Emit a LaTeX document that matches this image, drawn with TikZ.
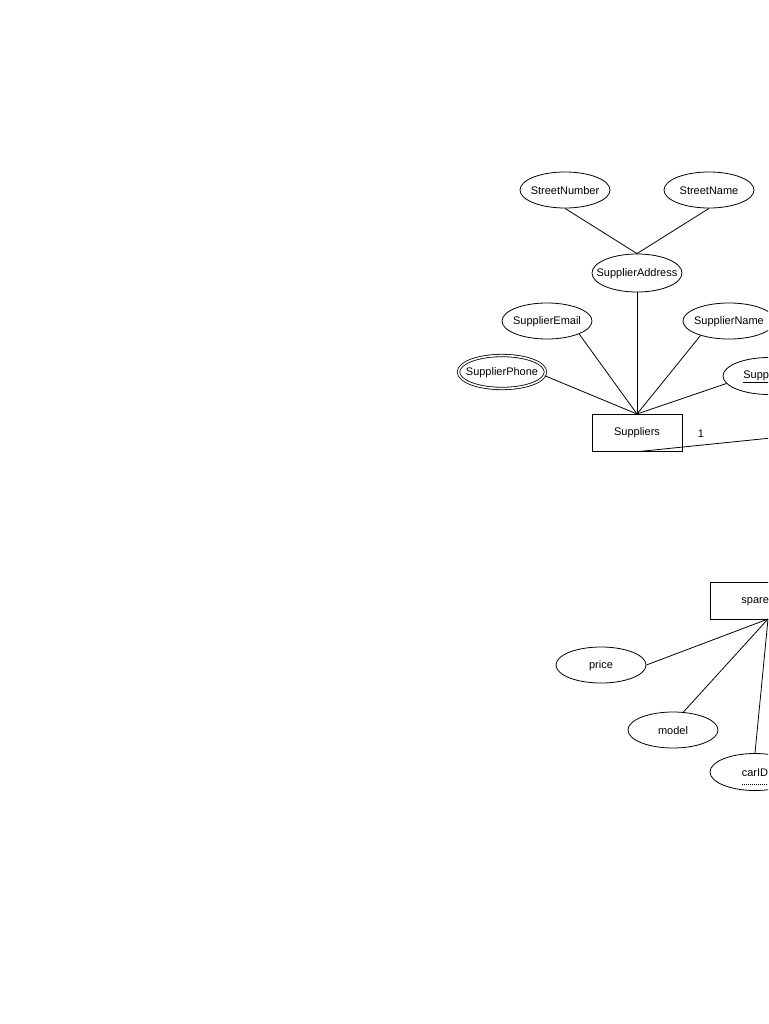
\documentclass[tikz,border=0pt]{standalone}
\usepackage{fontspec}
\setmainfont{Liberation Sans}
\usetikzlibrary{shapes.geometric}
\begin{document}
\begin{tikzpicture}[x=1pt,y=-1pt,
  attr/.style 2 args={draw,ellipse,line width=0.8pt,minimum width=90pt,minimum height=36pt,inner sep=0pt,
    label={[font=\fontsize{11}{13}\selectfont,inner sep=0pt,yshift=-0.5pt]center:{#1}}},
  ent/.style={draw,rectangle,line width=0.8pt,minimum width=90pt,minimum height=37pt,inner sep=0pt,font=\fontsize{11}{13}\selectfont},
  conn/.style={line width=0.8pt},
  lbl/.style={font=\fontsize{11}{13}\selectfont,inner sep=0pt}]
\useasboundingbox (0,0) rectangle (768,1024);
\fill[white] (0,0) rectangle (768,1024);
\clip (0,0) rectangle (768,1024);

% Suppliers part
\node[attr={StreetNumber}{}] (sn) at (565,190) {};
\node[attr={StreetName}{}] (sna) at (709,190) {};
\node[attr={SupplierAddress}{},minimum height=38pt] (sa) at (637,273) {};
\node[attr={SupplierEmail}{}] (se) at (547,321) {};
\node[attr={SupplierName}{},minimum width=92pt] (sname) at (729,321) {};
\node[attr={SupplierPhone}{},double,double distance=1.6pt,minimum width=87pt,minimum height=33pt] (sp) at (502,372) {};
\node[attr={\underline{SupplierID}}{},minimum width=92pt,minimum height=37pt] (sid) at (769,376) {};
\node[ent] (sup) at (637,432.5) {Suppliers};
\coordinate (conv) at (637,414);
\coordinate (rel) at (830,432);

\draw[conn] (sn.south) -- (sa.north);
\draw[conn] (sna.south) -- (sa.north);
\draw[conn] (sa.south) -- (conv);
\draw[conn] (se.-22) -- (conv);
\draw[conn] (sname.207) -- (conv);
\draw[conn] (sp.-5) -- (conv);
\draw[conn] (sid.190) -- (conv);
\draw[conn] ([xshift=3pt]sup.south) -- (rel);
\node[lbl] (one) at (701,434) {1};

% spare parts part
\node[ent,minimum width=116pt] (spare) at (768,600.5) {spareParts};
\coordinate (conv2) at (768,619);
\node[attr={price}{}] (price) at (601,665) {};
\node[attr={model}{}] (model) at (673,730) {};
\node[attr={carID}{},minimum height=37pt] (car) at (755,772) {};
\draw[line width=0.6pt,dash pattern=on 1pt off 1pt] (742,784) -- (768,784);

\draw[conn] (price.east) -- (conv2);
\draw[conn] (model.60) -- (conv2);
\draw[conn] (car.north) -- (conv2);
\end{tikzpicture}
\end{document}
